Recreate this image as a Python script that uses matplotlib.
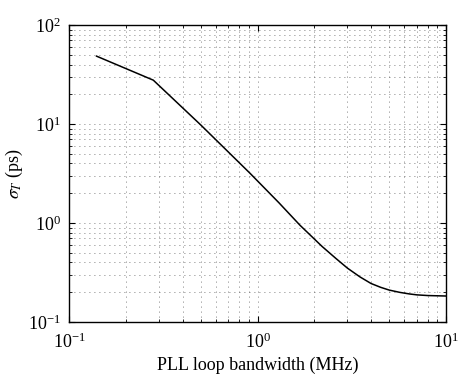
import matplotlib
matplotlib.use("Agg")
import matplotlib.pyplot as plt

bandwidth_mhz = [0.14, 0.28, 0.5, 0.91, 1.3, 1.68, 2.2, 2.6, 3.0, 3.5, 4.0, 4.5, 5.0, 5.7, 6.4, 7.0, 8.0, 10.0]
sigma_t_ps = [48.6, 27.8, 9.8, 3.2, 1.6, 0.95, 0.58, 0.44, 0.35, 0.285, 0.245, 0.224, 0.21, 0.199, 0.192, 0.188, 0.185, 0.183]

plt.rcParams['font.family'] = ['Liberation Serif', 'DejaVu Serif']
plt.rcParams['mathtext.fontset'] = 'stix'

fig = plt.figure(figsize=(4.74, 3.87), dpi=100)
ax = fig.add_axes([0.1456, 0.168, 0.7954, 0.767])
ax.plot(bandwidth_mhz, sigma_t_ps, color='black', linewidth=1.1)
ax.set_xscale('log')
ax.set_yscale('log')
ax.set_xlim(0.1, 10)
ax.set_ylim(0.1, 100)
ax.grid(True, which='both', color='#555555', linestyle=(0, (1, 5)), linewidth=0.6)
ax.tick_params(which='both', direction='in', top=True, right=True, labelsize=13)
ax.tick_params(which='major', length=4)
ax.tick_params(which='minor', length=2)
ax.tick_params(axis='x', which='major', pad=8)
ax.tick_params(axis='y', which='major', pad=6)
ax.set_xlabel('PLL loop bandwidth (MHz)', fontsize=13, labelpad=3)
ax.set_ylabel(r'$\sigma_T$ (ps)', fontsize=13, labelpad=2)
for s in ax.spines.values():
    s.set_linewidth(1.0)
fig.savefig('out.png', dpi=100)
